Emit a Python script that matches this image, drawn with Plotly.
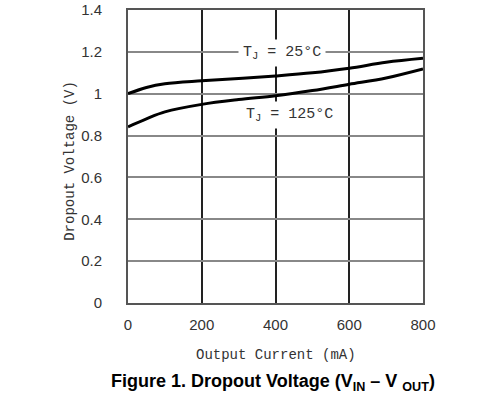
import plotly.graph_objects as go

current_ma = [0, 50, 100, 200, 300, 400, 500, 600, 700, 800]
v_25c = [1.0, 1.03, 1.048, 1.062, 1.073, 1.085, 1.1, 1.122, 1.15, 1.169]
v_125c = [0.842, 0.88, 0.913, 0.949, 0.972, 0.99, 1.015, 1.045, 1.075, 1.118]

x_ticks = [0, 200, 400, 600, 800]
y_ticks = [0, 0.2, 0.4, 0.6, 0.8, 1.0, 1.2, 1.4]
y_tick_text = ["0", "0.2", "0.4", "0.6", "0.8", "1", "1.2", "1.4"]

fig = go.Figure()
for v in (v_25c, v_125c):
    fig.add_trace(go.Scatter(x=current_ma, y=v, mode="lines",
                             line=dict(color="black", width=3, shape="spline"), showlegend=False))

tick_font = dict(family="Liberation Sans", size=15, color="#333")
mono = dict(family="Liberation Mono", size=14, color="#333")
label_font = dict(family="Liberation Mono", size=15, color="#333")

fig.update_layout(
    width=481, height=396,
    margin=dict(l=128, r=58, t=10, b=93, autoexpand=False),
    paper_bgcolor="white", plot_bgcolor="white",
    xaxis=dict(range=[0, 800], tickvals=x_ticks, showgrid=True, gridcolor="#222", gridwidth=1.5,
               showline=True, linecolor="#555", linewidth=2, mirror=True, zeroline=False,
               ticks="", ticklabelstandoff=7, tickfont=tick_font),
    yaxis=dict(range=[0, 1.4], tickvals=y_ticks, ticktext=y_tick_text, showgrid=True, gridcolor="#888", gridwidth=1.5,
               showline=True, linecolor="#555", linewidth=2, mirror=True, zeroline=False,
               ticks="", ticklabelstandoff=21, tickfont=tick_font),
    annotations=[
        dict(x=418, y=1.196, xref="x", yref="y", text="T<sub>J</sub> = 25°C", showarrow=False,
             font=label_font, bgcolor="white", borderpad=4),
        dict(x=439, y=0.9, xref="x", yref="y", text="T<sub>J</sub> = 125°C", showarrow=False,
             font=label_font, bgcolor="white", borderpad=4),
        dict(x=0.5, y=-0.177, xref="paper", yref="paper", text="Output Current (mA)", showarrow=False,
             font=mono, yanchor="middle"),
        dict(x=-0.197, y=0.485, xref="paper", yref="paper", text="Dropout Voltage (V)", showarrow=False,
             font=mono, textangle=-90, xanchor="center", yanchor="middle"),
        dict(x=0.493, y=-0.273, xref="paper", yref="paper",
             text="<b>Figure 1. Dropout Voltage (V<sub>IN</sub> – V <sub>OUT</sub>)</b>", showarrow=False,
             font=dict(family="Liberation Sans", size=18, color="black"), yanchor="middle"),
    ],
)

fig.write_html("out.html", config={"displayModeBar": False},
               post_script="document.body.style.margin='0';")
